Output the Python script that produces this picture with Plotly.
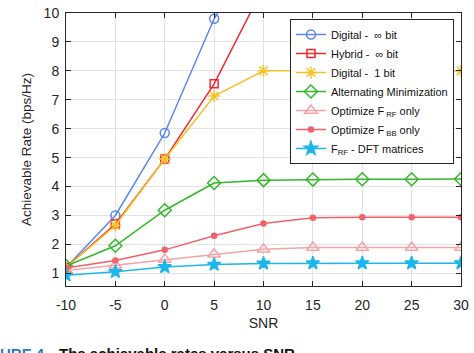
import plotly.graph_objects as go

snr = [-10, -5, 0, 5, 10, 15, 20, 25, 30]
snr_labels = ["-10", "-5", "0", "5", "10", "15", "20", "25", "30"]
rate_ticks = [1, 2, 3, 4, 5, 6, 7, 8, 9, 10]

digital_inf = [1.2, 3.0, 5.85, 9.8, 12.6, 15.4, 18.2, 21.0, 23.8]
hybrid_inf = [1.2, 2.7, 4.95, 7.55, 10.9, 13.5, 16.0, 18.5, 21.0]
digital_1bit = [1.2, 2.65, 4.95, 7.13, 8.0, 8.0, 8.0, 8.0, 8.0]
alt_min = [1.25, 1.95, 3.18, 4.12, 4.22, 4.24, 4.25, 4.25, 4.26]
opt_frf = [1.1, 1.28, 1.48, 1.66, 1.83, 1.89, 1.89, 1.89, 1.89]
opt_fbb = [1.18, 1.44, 1.81, 2.3, 2.72, 2.92, 2.94, 2.94, 2.94]
frf_dft = [0.93, 1.05, 1.22, 1.3, 1.34, 1.35, 1.35, 1.35, 1.35]

names = [
    "Digital -  ∞ bit",
    "Hybrid -  ∞ bit",
    "Digital -  1 bit",
    "Alternating Minimization",
    "Optimize F<sub> RF</sub> only",
    "Optimize F<sub> BB</sub> only",
    "F<sub>RF</sub> - DFT matrices",
]
series = [digital_inf, hybrid_inf, digital_1bit, alt_min, opt_frf, opt_fbb, frf_dft]
colors = ["#5a86ee", "#f0282f", "#f5c128", "#33b82a", "#f5a3a6", "#f0626a", "#1cb6ea"]
symbols = ["circle-open", "square-open", "asterisk-open", "diamond-open",
           "triangle-up-open", "circle", "star"]
sizes = [9, 8, 10, 10, 11, 5, 10]

fig = go.Figure()
for name, ys, c, s, sz in zip(names, series, colors, symbols, sizes):
    fig.add_trace(go.Scatter(
        x=snr, y=ys, name=name, mode="lines+markers",
        line=dict(color=c, width=1.5),
        marker=dict(symbol=s, size=sz, color=c, line=dict(color=c, width=1.5)),
    ))

axis_common = dict(
    showline=True, linecolor="#262626", linewidth=1, mirror="ticks",
    ticks="inside", ticklen=5, tickcolor="#262626",
    showgrid=True, gridcolor="#e3e3e3", gridwidth=1, zeroline=False,
    tickfont=dict(size=14, color="#262626"), ticklabeloverflow="allow",
)

fig.update_layout(
    width=474, height=353,
    margin=dict(l=66, r=8, t=5, b=67),
    paper_bgcolor="white", plot_bgcolor="white",
    font=dict(family="Liberation Sans, Arial, sans-serif", color="#262626"),
    xaxis=dict(range=[-10, 30], tickvals=snr, ticktext=snr_labels, ticklabelstandoff=6,
               title=dict(text="SNR", font=dict(size=14), standoff=6), **axis_common),
    yaxis=dict(range=[0.56, 10], tickvals=rate_ticks, ticklabelstandoff=3,
               title=dict(text="Achievable Rate (bps/Hz)", font=dict(size=13.5), standoff=8),
               **axis_common),
    legend=dict(x=0.567, y=0.978, xanchor="left", yanchor="top",
                bgcolor="white", bordercolor="#262626", borderwidth=1,
                font=dict(size=11, color="#111111"), tracegroupgap=0),
    showlegend=True,
    annotations=[
        dict(text="<b>FIGURE 4.</b>", xref="paper", yref="paper", x=-0.04, y=-0.208,
             xanchor="right", yanchor="top", showarrow=False,
             font=dict(size=15, color="#2a7bbf")),
        dict(text="<b>The achievable rates versus SNR.</b>", xref="paper", yref="paper",
             x=-0.022, y=-0.208, xanchor="left", yanchor="top", showarrow=False,
             font=dict(size=15, color="#111111")),
    ],
)

fig.write_html("out.html")
